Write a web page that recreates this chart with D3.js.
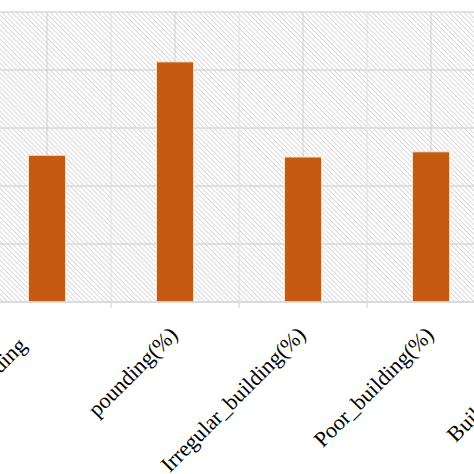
<!DOCTYPE html>
<html>
<head>
<meta charset="utf-8">
<script src="https://cdn.jsdelivr.net/npm/d3@7"></script>
<style>
  html, body { margin: 0; padding: 0; background: #fff; }
  svg { display: block; }
</style>
</head>
<body>
<div id="bar-chart"></div>
<script>
// categories (the first and last are cut off by the crop; "\n" marks a wrapped label)
const categories = ['Adjacent_building\n(%)', 'pounding(%)', 'Irregular_building(%)', 'Poor_building(%)', 'Building_age(%)'];
const values = [25.3, 41.4, 25.0, 25.9, 22.0];
const yTicks = [0, 10, 20, 30, 40, 50];

const width = 474;
const height = 474;

const svg = d3.select('#bar-chart')
  .append('svg')
  .attr('width', width)
  .attr('height', height);

// hatch pattern for the plot area
const defs = svg.append('defs');
defs.append('pattern')
  .attr('id', 'hatch')
  .attr('patternUnits', 'userSpaceOnUse')
  .attr('width', 3.4)
  .attr('height', 3.4)
  .attr('patternTransform', 'rotate(45)')
  .append('line')
  .attr('x1', 0).attr('y1', 0.5)
  .attr('x2', 3.4).attr('y2', 0.5)
  .style('stroke', '#d4d4d4')
  .style('stroke-width', 0.9);

const x = d3.scaleBand()
  .domain(categories)
  .range([-17, -17 + 128 * categories.length])
  .paddingInner(0.71)
  .paddingOuter(0.355);

const band = d3.scaleBand()
  .domain(categories)
  .range([-17, -17 + 128 * categories.length]);

const y = d3.scaleLinear()
  .domain([0, 50])
  .range([302, 12]);

const plotLeft = band.range()[0];
const plotRight = band.range()[1];

// background hatch
svg.append('rect')
  .attr('x', plotLeft)
  .attr('y', y(50))
  .attr('width', plotRight - plotLeft)
  .attr('height', y(0) - y(50))
  .style('fill', 'url(#hatch)');

// horizontal gridlines
svg.append('g')
  .selectAll('line')
  .data(yTicks)
  .enter()
  .append('line')
  .attr('x1', plotLeft)
  .attr('x2', plotRight)
  .attr('y1', (d) => y(d))
  .attr('y2', (d) => y(d))
  .style('stroke', '#d9d9d9')
  .style('stroke-width', 1.3);

// vertical gridlines at category boundaries (lighter)
svg.append('g')
  .selectAll('line')
  .data(categories.slice(1))
  .enter()
  .append('line')
  .attr('x1', (d) => band(d))
  .attr('x2', (d) => band(d))
  .attr('y1', y(50))
  .attr('y2', y(0))
  .style('stroke', '#e3e3e3')
  .style('stroke-width', 1.2);

// vertical gridlines at category centres (darker)
svg.append('g')
  .selectAll('line')
  .data(categories)
  .enter()
  .append('line')
  .attr('x1', (d) => band(d) + band.bandwidth() / 2)
  .attr('x2', (d) => band(d) + band.bandwidth() / 2)
  .attr('y1', y(50))
  .attr('y2', y(0))
  .style('stroke', '#cfcfcf')
  .style('stroke-width', 1);

// bars
svg.append('g')
  .selectAll('rect')
  .data(categories)
  .enter()
  .append('rect')
  .attr('x', (d) => x(d))
  .attr('y', (d, i) => y(values[i]))
  .attr('width', x.bandwidth())
  .attr('height', (d, i) => y(0) - y(values[i]))
  .style('fill', '#c55a11')
  .style('stroke', '#fbe2cf')
  .style('stroke-width', 1);

// x axis with ticks between categories
const axis = svg.append('g')
  .attr('transform', `translate(0, ${y(0)})`);

axis.append('line')
  .attr('x1', plotLeft)
  .attr('x2', plotRight)
  .style('stroke', '#d9d9d9')
  .style('stroke-width', 1.5);

axis.selectAll('.tick')
  .data(categories.slice(1))
  .enter()
  .append('line')
  .attr('x1', (d) => band(d))
  .attr('x2', (d) => band(d))
  .attr('y1', 0)
  .attr('y2', 6)
  .style('stroke', '#d9d9d9')
  .style('stroke-width', 1.3);

// category labels, rotated; wrapped labels are set as a centred block
const lineHeight = 18;
const wrapInset = 24;

const labels = axis.selectAll('g.label')
  .data(categories)
  .enter()
  .append('g')
  .attr('class', 'label')
  .attr('transform', (d) => `translate(${band(d) + band.bandwidth() / 2 + 4}, 34) rotate(-45)`);

labels.each(function (d) {
  const g = d3.select(this);
  const lines = d.split('\n');
  const n = lines.length;
  const text = g.append('text')
    .style('font-family', '"Liberation Serif", "Times New Roman", serif')
    .style('font-size', '22px')
    .style('fill', '#000');

  if (n === 1) {
    text.attr('text-anchor', 'end').text(d);
    return;
  }
  // first line is the longest: end-anchored, the rest centred below it
  const first = text.append('tspan')
    .attr('text-anchor', 'end')
    .attr('x', -wrapInset)
    .attr('y', (0 - (n - 1) / 2) * lineHeight)
    .text(lines[0]);
  const w = first.node().getComputedTextLength();
  lines.slice(1).forEach((line, j) => {
    text.append('tspan')
      .attr('text-anchor', 'middle')
      .attr('x', -wrapInset - w / 2)
      .attr('y', (j + 1 - (n - 1) / 2) * lineHeight)
      .text(line);
  });
});
</script>
</body>
</html>
